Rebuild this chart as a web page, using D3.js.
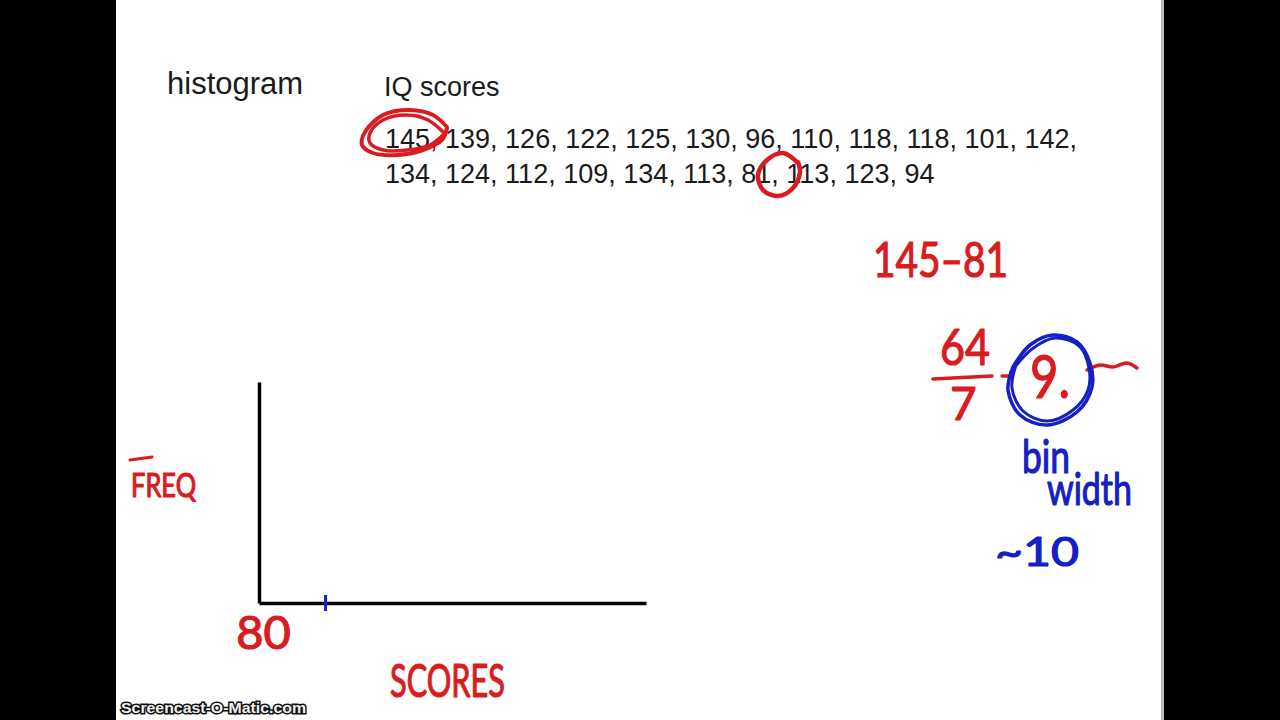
<!DOCTYPE html>
<html>
<head>
<meta charset="utf-8">
<script src="https://cdn.jsdelivr.net/npm/d3@7"></script>
<style>
  html, body { margin: 0; background: #000; overflow: hidden; }
  .print { font-family: "Liberation Sans", Arial, sans-serif; fill: #1a1a1a; }
  .hand { font-family: "Lato", sans-serif; stroke-linejoin: round; }
</style>
</head>
<body>
<div id="vis-container"></div>
<script>
// Data
const scoresRow1 = [145, 139, 126, 122, 125, 130, 96, 110, 118, 118, 101, 142];
const scoresRow2 = [134, 124, 112, 109, 134, 113, 81, 113, 123, 94];
const xTicks = [80, 90];
const xTickLabels = ["80", ""];
const xDomain = [80, 138.6];
const yDomain = [0, 1];

const width = 1280;
const height = 720;
const red = "#d91c20";
const blue = "#1420c4";

const svg = d3.select("#vis-container")
  .append("svg")
  .attr("width", width)
  .attr("height", height)
  .style("display", "block");

// slide page
svg.append("rect").attr("x", 116).attr("y", 0).attr("width", 1047).attr("height", height).attr("fill", "#fff");
svg.append("rect").attr("x", 1161).attr("y", 0).attr("width", 3).attr("height", height).attr("fill", "#b8b8b8");

// printed text
svg.append("text").attr("class", "print").attr("x", 167).attr("y", 94).attr("font-size", 31).text("histogram");
svg.append("text").attr("class", "print").attr("x", 384).attr("y", 96).attr("font-size", 27).text("IQ scores");
svg.append("text").attr("class", "print").attr("x", 385).attr("y", 148).attr("font-size", 27)
  .text(scoresRow1.join(", ") + ",");
svg.append("text").attr("class", "print").attr("x", 385).attr("y", 183).attr("font-size", 27)
  .text(scoresRow2.join(", "));

// axes
const xScale = d3.scaleLinear().domain(xDomain).range([259, 646]);
const yScale = d3.scaleLinear().domain(yDomain).range([603, 382]);

const xAxis = svg.append("g")
  .attr("transform", "translate(0,603)")
  .call(d3.axisBottom(xScale).tickValues(xTicks).tickSize(0).tickFormat((d, i) => xTickLabels[i]));
xAxis.select(".domain").attr("stroke", "#000").attr("stroke-width", 3.5);
xAxis.selectAll(".tick line")
  .attr("y1", -8).attr("y2", 8)
  .attr("stroke", (d, i) => i ? blue : "none")
  .attr("stroke-width", 3);
xAxis.selectAll(".tick text")
  .attr("class", "hand")
  .attr("font-size", 47)
  .attr("fill", red)
  .attr("stroke", red)
  .attr("stroke-width", 1.2)
  .attr("dx", 4)
  .attr("y", 13);

const yAxis = svg.append("g")
  .attr("transform", "translate(259,0)")
  .call(d3.axisLeft(yScale).tickValues([]).tickSize(0));
yAxis.select(".domain").attr("stroke", "#000").attr("stroke-width", 3.5);

// pen strokes
const penLine = d3.line().curve(d3.curveCatmullRom.alpha(0.5));
const strokes = [
  { color: red, w: 4, pts: [[447,127],[433,115],[410,110],[383,115],[365,132],[362,145],[373,153],[397,155],[423,150],[442,140],[447,128]] },
  { color: red, w: 3.5, pts: [[443,132],[428,120],[407,115],[383,120],[370,133],[370,143],[383,150],[407,150],[430,145],[443,135]] },
  { color: red, w: 4.5, pts: [[798,163],[783,153],[767,160],[758,175],[763,190],[778,196],[793,188],[800,172],[798,162]] },
  { color: red, w: 3.5, pts: [[933,379],[992,376]] },
  { color: red, w: 3.5, pts: [[1002,376],[1012,376]] },
  { color: red, w: 3.5, pts: [[1087,370],[1100,365],[1113,367],[1127,363],[1137,368]] },
  { color: red, w: 3, pts: [[130,460],[152,457]] },
  { color: blue, w: 3.5, pts: [[1013,367],[1030,345],[1053,335],[1077,342],[1090,363],[1092,387],[1077,412],[1047,425],[1020,415],[1008,390],[1013,367]] },
  { color: blue, w: 3, pts: [[1011,372],[1032,349],[1055,338],[1079,346],[1089,368],[1088,390],[1073,410],[1047,421],[1023,411],[1012,388],[1016,365]] }
];
svg.append("g").selectAll("path")
  .data(strokes)
  .join("path")
  .attr("d", d => penLine(d.pts))
  .attr("fill", "none")
  .attr("stroke", d => d.color)
  .attr("stroke-width", d => d.w)
  .attr("stroke-linecap", "round");

// handwritten words
const notes = [
  { t: "145–81", x: 873, y: 277, s: 48, len: 135, c: red },
  { t: "64", x: 940, y: 365, s: 50, len: 50, c: red },
  { t: "7", x: 950, y: 420, s: 46, c: red },
  { t: "9.", x: 1030, y: 398, s: 60, len: 40, c: red },
  { t: "bin", x: 1022, y: 473, s: 46, len: 48, c: blue },
  { t: "width", x: 1047, y: 505, s: 44, len: 85, c: blue },
  { t: "~10", x: 995, y: 566, s: 40, len: 84, c: blue },
  { t: "FREQ", x: 131, y: 497, s: 32, len: 65, c: red },
  { t: "SCORES", x: 390, y: 697, s: 46, len: 115, c: red }
];
svg.append("g").selectAll("text")
  .data(notes)
  .join("text")
  .attr("class", "hand")
  .attr("x", d => d.x)
  .attr("y", d => d.y)
  .attr("font-size", d => d.s)
  .attr("fill", d => d.c)
  .attr("stroke", d => d.c)
  .attr("stroke-width", 1.2)
  .each(function (d) {
    if (d.len) d3.select(this).attr("textLength", d.len).attr("lengthAdjust", "spacingAndGlyphs");
  })
  .text(d => d.t);

// recorder watermark
svg.append("text")
  .attr("x", 121)
  .attr("y", 713)
  .attr("font-family", "Liberation Sans, Arial, sans-serif")
  .attr("font-weight", "bold")
  .attr("font-size", 15.5)
  .attr("fill", "#eee")
  .attr("stroke", "#111")
  .attr("stroke-width", 3)
  .attr("paint-order", "stroke")
  .attr("textLength", 185)
  .attr("lengthAdjust", "spacingAndGlyphs")
  .text("Screencast-O-Matic.com");
</script>
</body>
</html>
